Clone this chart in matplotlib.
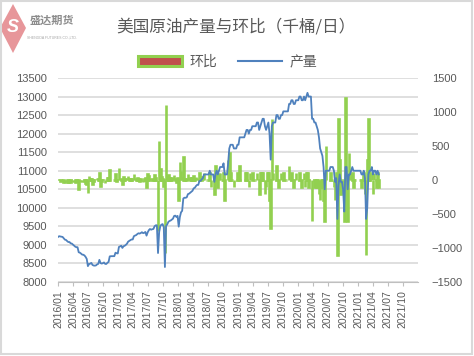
import numpy as np
import pandas as pd
import matplotlib
matplotlib.use('Agg')
import matplotlib.pyplot as plt
import matplotlib.dates as mdates
from matplotlib.patches import Rectangle, Polygon
from matplotlib.lines import Line2D

plt.rcParams['font.family'] = ['Liberation Sans', 'Noto Sans CJK SC', 'DejaVu Sans']

# weekly US crude output, thousand b/d (week ending Friday)
prod_2016 = [9214, 9235, 9227, 9221, 9215, 9179, 9142, 9133, 9102, 9077, 9078, 9042, 9036,
             9008, 8977, 8953, 8938, 8938, 8802, 8791, 8767, 8739, 8735, 8716, 8677, 8622,
             8428, 8483, 8494, 8515, 8460, 8444, 8441, 8447, 8475, 8488, 8597, 8509, 8497,
             8507, 8527, 8488, 8486, 8519, 8542, 8690, 8696, 8697, 8698, 8697, 8790, 8775, 8770]
prod_2017 = [8946, 8960, 8978, 8919, 8964, 8977, 9001, 9032, 9088, 9110, 9129, 9147, 9147,
             9235, 9252, 9265, 9293, 9314, 9305, 9320, 9342, 9317, 9327, 9350, 9250, 9338,
             9397, 9429, 9410, 9423, 9429, 9502, 9528, 9530, 8781, 9350, 9510, 9547, 9561,
             9480, 8404, 9507, 9553, 9620, 9645, 9658, 9682, 9707, 9780, 9789, 9754, 9782]
prod_2018 = [9492, 9752, 9878, 9919, 10251, 10273, 10271, 10283, 10369, 10381, 10407, 10433, 10460,
             10525, 10540, 10586, 10619, 10618, 10723, 10725, 10769, 10800, 10900, 10900, 10900, 10900,
             10900, 11000, 10900, 10900, 10900, 10700, 10900, 11000, 10900, 11000, 11100, 11100, 11100,
             11200, 10900, 10900, 10900, 11200, 11600, 11700, 11700, 11700, 11600, 11600, 11600, 11700]
prod_2019 = [11700, 11900, 11900, 11900, 11900, 11900, 12000, 12100, 12100, 12000, 12100, 12100, 12200,
             12200, 12200, 12200, 12300, 12300, 12100, 12200, 12300, 12400, 12400, 12200, 12100, 12200,
             12300, 12000, 11300, 12200, 12300, 12300, 12300, 12500, 12500, 12400, 12400, 12500, 12500,
             12600, 12600, 12600, 12600, 12600, 12800, 12800, 12900, 12900, 12800, 12800, 12900, 12900]
prod_2020 = [12900, 13000, 13000, 12900, 12900, 13000, 12900, 13000, 13100, 13000, 13000, 13000, 12400,
             12400, 12300, 12300, 12200, 12100, 11900, 11600, 11500, 11400, 11100, 10500, 11000, 11000,
             11000, 11000, 11100, 11100, 11100, 11000, 10700, 10800, 9700, 10600, 10900, 10700, 10700,
             10500, 9900, 11100, 11100, 10500, 10900, 10900, 11000, 11100, 11000, 11000, 11000, 11000]
prod_2021 = [11000, 11000, 11000, 10900, 10900, 11000, 10800, 9700, 10000, 10900, 11000, 11000, 11100,
             10900, 11000, 11000, 10900, 11000, 10900]
prev_week = 9192  # week ending 2015-12-25

prod = np.array(prod_2016 + prod_2017 + prod_2018 + prod_2019 + prod_2020 + prod_2021)
dates = pd.date_range('2016-01-01', periods=len(prod), freq='W-FRI')
chg = np.diff(prod, prepend=prev_week)  # 环比 = week-over-week change

left_ticks = np.arange(8000, 13501, 500)
right_ticks = np.arange(-1500, 1501, 500)
x_ticks = pd.date_range('2016-01-01', '2021-10-01', freq='3MS')

grey = '#595959'
grid_c = '#d9d9d9'
green = '#92D050'
blue = '#4F81BD'

fig = plt.figure(figsize=(4.74, 3.56), dpi=100)
rect = [58 / 474, 1 - 282 / 356, 360 / 474, 204 / 356]

# base axes: left scale + grid
ax = fig.add_axes(rect)
ax.set_ylim(8000, 13500)
ax.set_yticks(left_ticks)
ax.yaxis.grid(True, color=grid_c, linewidth=1.2)
ax.set_axisbelow(True)
ax.tick_params(axis='y', length=0, pad=8, labelsize=8, labelcolor=grey)

# bars (right scale)
axr = ax.twinx()
axr.bar(dates, chg, width=4, color='#C0504D', edgecolor=green, linewidth=1.9)
axr.set_ylim(-1500, 1500)
axr.set_yticks(right_ticks)
axr.tick_params(axis='y', length=0, pad=10, labelsize=8, labelcolor=grey)

# line on top (left scale)
axl = ax.twinx()
axl.plot(dates, prod, color=blue, linewidth=1.3)
axl.set_ylim(8000, 13500)
axl.set_yticks([])

for a in (ax, axr, axl):
    for s in a.spines.values():
        s.set_visible(False)
    a.set_xlim(pd.Timestamp('2016-01-01'), pd.Timestamp('2022-01-01'))
ax.spines['bottom'].set_visible(True)
ax.spines['bottom'].set_color('#bfbfbf')

ax.set_xticks(x_ticks)
ax.xaxis.set_major_formatter(mdates.DateFormatter('%Y/%m'))
ax.tick_params(axis='x', length=3, color='#bfbfbf', pad=3, labelsize=7.5,
               labelcolor=grey, labelrotation=90)

# title and legend
fig.text(0.497, 1 - 27 / 356, '美国原油产量与环比（千桶/日）', ha='center', va='center',
         fontsize=12, color=grey, family=['Noto Sans CJK SC', 'DejaVu Sans'])
handles = [Rectangle((0, 0), 1, 1, facecolor='#C0504D', edgecolor=green, linewidth=2.2),
           Line2D([0], [0], color=blue, linewidth=1.5)]
fig.legend(handles, ['环比', '产量'], loc='center', bbox_to_anchor=(0.48, 1 - 62 / 356),
           ncol=2, frameon=False, labelcolor=grey, handlelength=3.2,
           handleheight=0.7, columnspacing=1.5, handletextpad=0.5,
           prop={'family': ['Noto Sans CJK SC', 'DejaVu Sans'], 'size': 10})

# logo
W, H = 474, 356
pts = [(13 / W, 1 - 4 / H), (26 / W, 1 - 28 / H), (13 / W, 1 - 53 / H), (0 / W, 1 - 28 / H)]
fig.patches.append(Polygon(pts, closed=True, transform=fig.transFigure,
                           facecolor='#e58b8f', edgecolor='none', alpha=0.9))
fig.text(13 / W, 1 - 28 / H, 'S', ha='center', va='center', fontsize=13, color='white',
         fontweight='bold', style='italic')
fig.text(52 / W, 1 - 20 / H, '盛达期货', ha='center', va='center', fontsize=8,
         color='#8c8c8c', fontweight='bold', family=['Noto Sans CJK SC', 'DejaVu Sans'])
fig.text(52 / W, 1 - 38 / H, 'SHENGDA FUTURES CO.,LTD.', ha='center', va='center',
         fontsize=2.5, color='#a6a6a6')

# outer frame
fig.patches.append(Rectangle((1 / W, 2 / H), 471 / W, 353 / H, transform=fig.transFigure,
                             fill=False, edgecolor=grid_c, linewidth=1.5))

fig.savefig('out.png', dpi=100)
